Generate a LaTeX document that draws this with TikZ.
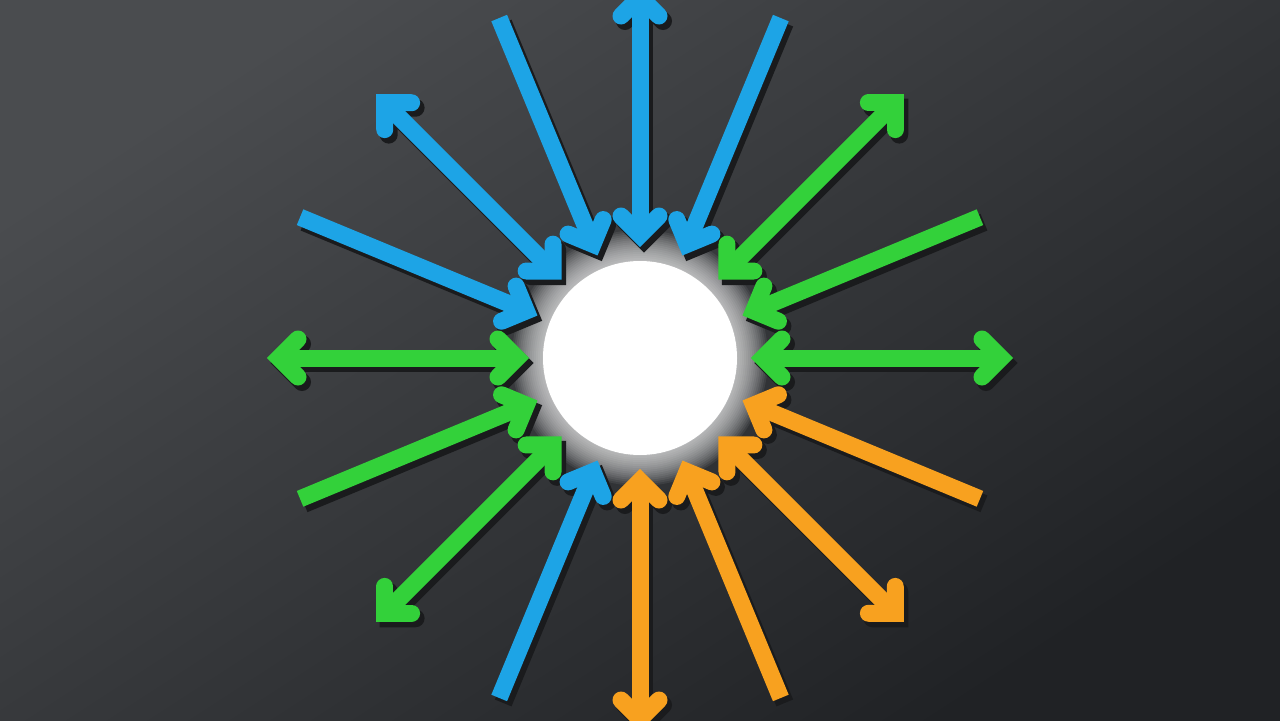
\documentclass[tikz,border=0pt]{standalone}
\definecolor{bgtop}{HTML}{4A4C4F}
\definecolor{bgbot}{HTML}{202225}
\definecolor{cblue}{HTML}{1DA4E6}
\definecolor{cgreen}{HTML}{33D13A}
\definecolor{corange}{HTML}{F8A11F}
\definecolor{shad}{HTML}{1A1B1D}
\tikzset{
  shaft/.style={line width=8.5pt, line cap=butt},
  chevron/.style={line width=8.5pt, line cap=round, line join=miter},
  shadowline/.style={shad, line width=9pt},
}
\newcommand\rayarrow[5]{% #1 angle, #2 double flag, #3 style, #4 name, #5 offset
  \begin{scope}[shift={(c)}, shift={#5}, rotate=#1]
    \coordinate (#4a) at (123,0);
    \coordinate (#4s) at (130,0);
    \coordinate (#4l) at (142,19);
    \coordinate (#4r) at (142,-19);
    \ifnum#2=1
      \coordinate (#4e) at (355,0);
      \coordinate (#4o) at (361,0);
      \coordinate (#4ol) at (342,19);
      \coordinate (#4or) at (342,-19);
      \draw[shaft,#3] (#4s) -- (#4e);
      \draw[chevron,#3] (#4ol) -- (#4o) -- (#4or);
    \else
      \coordinate (#4e) at (368,0);
      \draw[shaft,#3] (#4s) -- (#4e);
    \fi
    \draw[chevron,#3] (#4l) -- (#4a) -- (#4r);
  \end{scope}}
\begin{document}
\begin{tikzpicture}[x=0.5pt,y=0.5pt]
\useasboundingbox (0,0) rectangle (1280,720);
\shade[top color=bgtop, bottom color=bgbot, shading angle=33] (0,0) rectangle (1280,720);
\coordinate (c) at (640,362);
% glow
\foreach \r in {98,100,...,128} {\fill[white, opacity=0.065] (c) circle (\r);}
\fill[white] (c) circle (97);
\node[circle, inner sep=0pt, minimum size=97pt] (core) at (c) {};
% shadows
\foreach \a/\col/\d [count=\i] in {90/cblue/1, 67.5/cblue/0, 45/cgreen/1, 22.5/cgreen/0, 0/cgreen/1, -22.5/corange/0, -45/corange/1, -67.5/corange/0, -90/corange/1, -112.5/cblue/0, -135/cgreen/1, -157.5/cgreen/0, 180/cgreen/1, 157.5/cblue/0, 135/cblue/1, 112.5/cblue/0}
  {\rayarrow{\a}{\d}{shadowline}{s\i}{(4,-5)}}
% arrows
\foreach \a/\col/\d [count=\i] in {90/cblue/1, 67.5/cblue/0, 45/cgreen/1, 22.5/cgreen/0, 0/cgreen/1, -22.5/corange/0, -45/corange/1, -67.5/corange/0, -90/corange/1, -112.5/cblue/0, -135/cgreen/1, -157.5/cgreen/0, 180/cgreen/1, 157.5/cblue/0, 135/cblue/1, 112.5/cblue/0}
  {\rayarrow{\a}{\d}{\col}{r\i}{(0,0)}}
\end{tikzpicture}
\end{document}
